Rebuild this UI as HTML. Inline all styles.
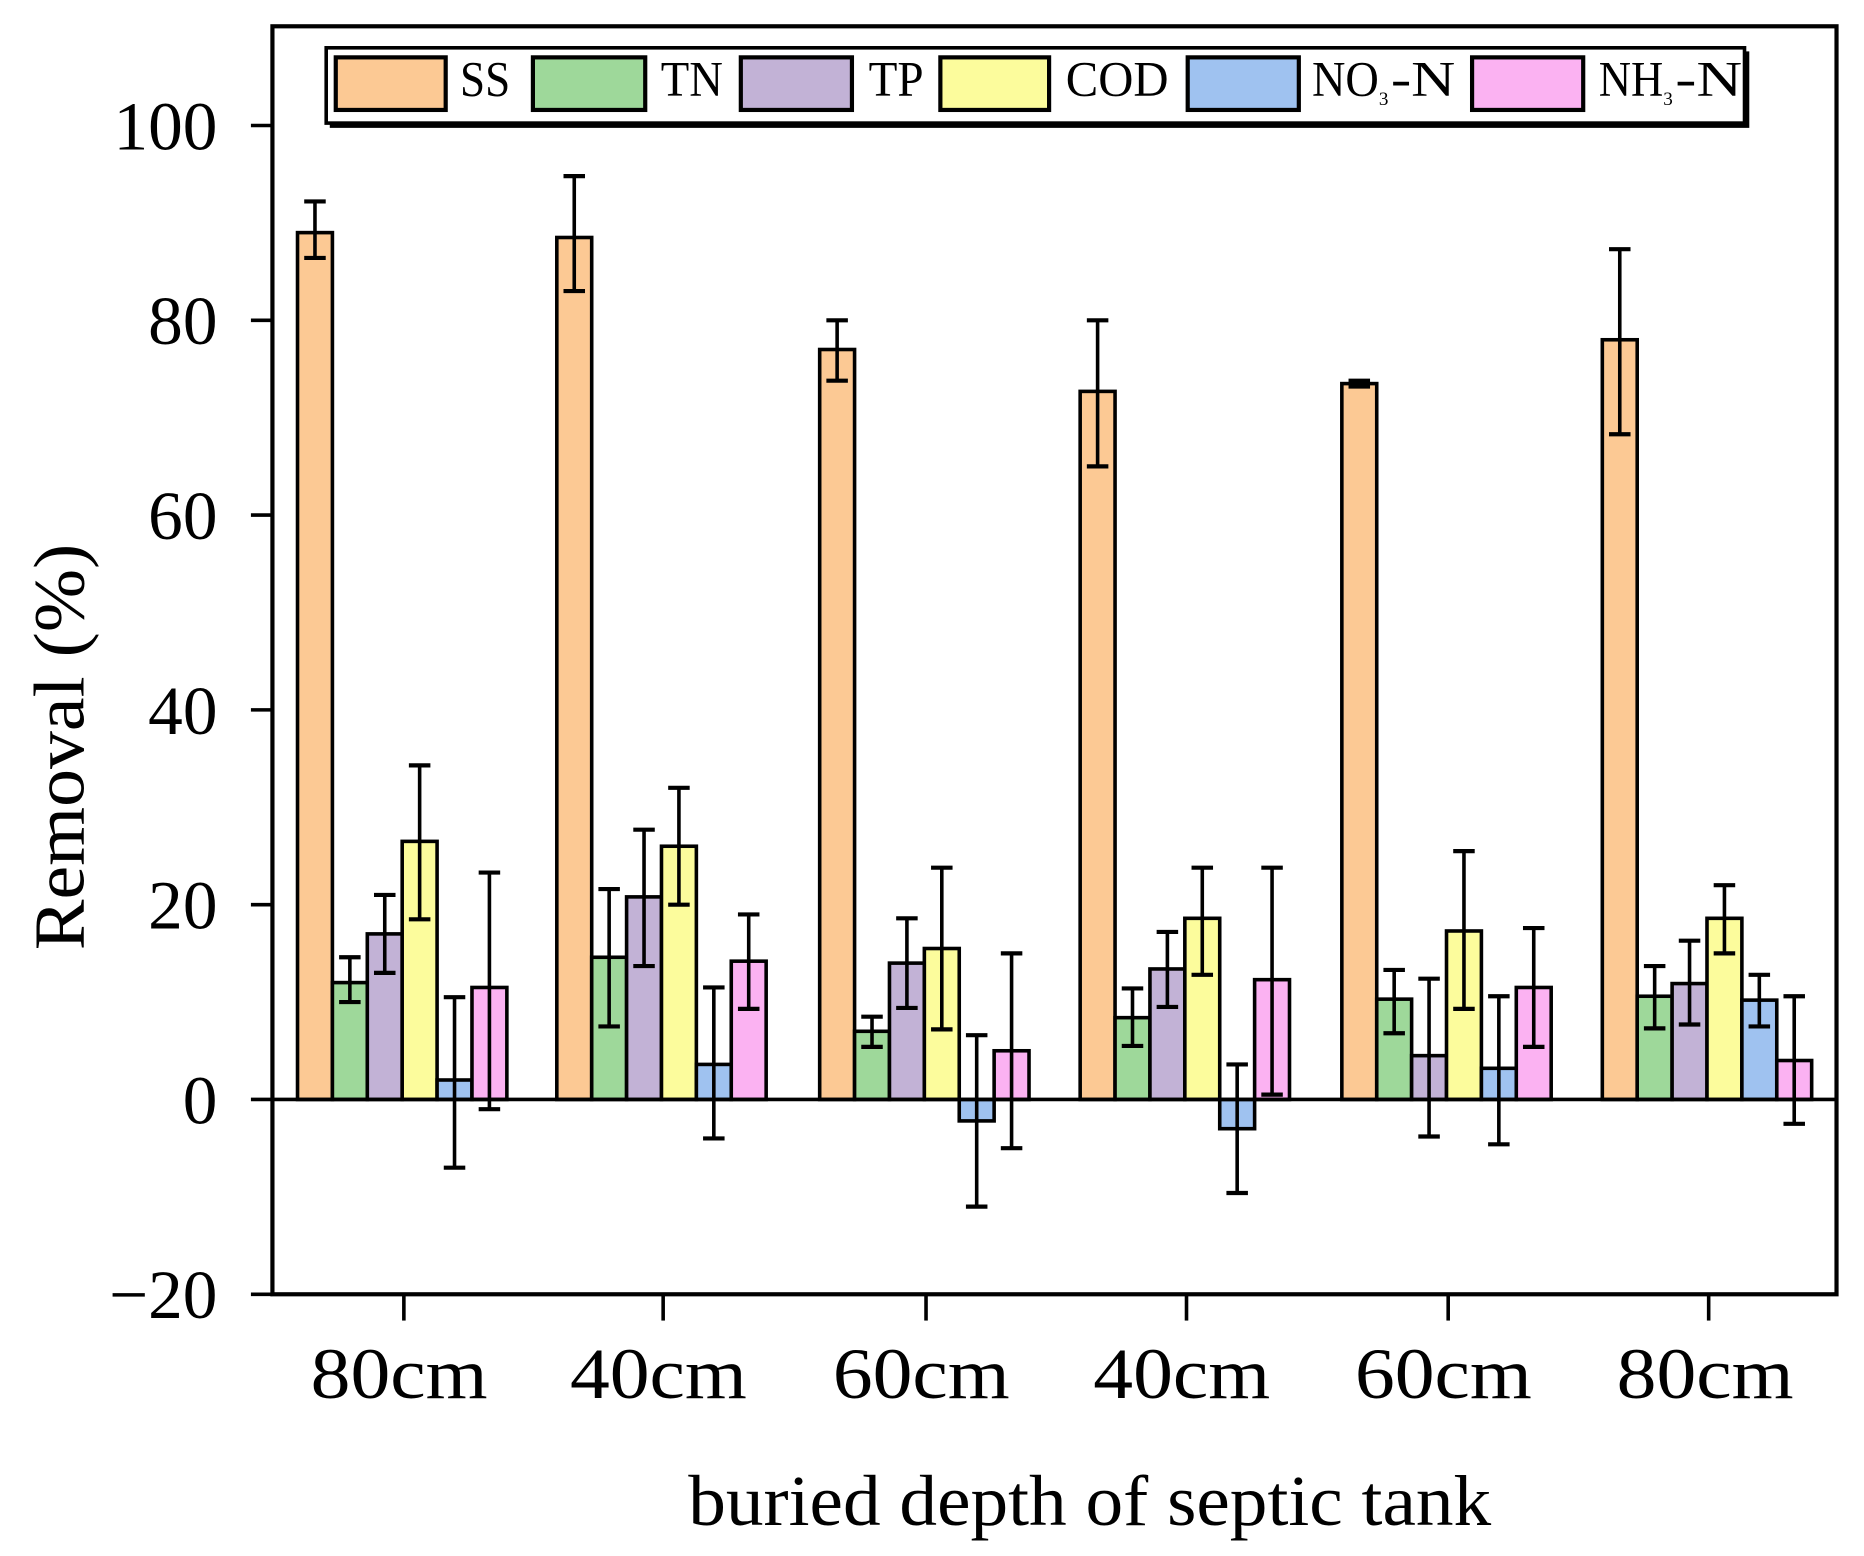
<!DOCTYPE html>
<html><head><meta charset="utf-8"><style>
html,body{margin:0;padding:0;background:#fff;}
svg{display:block;}
text{font-family:"Liberation Serif",serif;fill:#000;}
</style></head><body>
<svg id="c" width="1864" height="1556" viewBox="0 0 1560 1302" preserveAspectRatio="none" xmlns="http://www.w3.org/2000/svg">
<rect x="0" y="0" width="1560" height="1302" fill="#fff"/>
<g id="bars"></g>
<line x1="228" y1="920" x2="1537" y2="920" stroke="#000" stroke-width="3"/>
<rect x="228" y="22" width="1309" height="1061" fill="none" stroke="#000" stroke-width="3.5"/>
<g stroke="#000" stroke-width="3">
<line x1="210" y1="105" x2="228" y2="105"/><line x1="210" y1="268" x2="228" y2="268"/>
<line x1="210" y1="431" x2="228" y2="431"/><line x1="210" y1="594" x2="228" y2="594"/>
<line x1="210" y1="757" x2="228" y2="757"/><line x1="210" y1="920" x2="228" y2="920"/>
<line x1="210" y1="1083" x2="228" y2="1083"/>
<line x1="338" y1="1083" x2="338" y2="1105"/><line x1="555" y1="1083" x2="555" y2="1105"/>
<line x1="775" y1="1083" x2="775" y2="1105"/><line x1="993" y1="1083" x2="993" y2="1105"/>
<line x1="1212" y1="1083" x2="1212" y2="1105"/><line x1="1430" y1="1083" x2="1430" y2="1105"/>
</g>
<g font-size="58" text-anchor="end">
<text x="182" y="125">100</text><text x="182" y="288">80</text><text x="182" y="451">60</text>
<text x="182" y="614">40</text><text x="182" y="777">20</text><text x="182" y="940">0</text>
<text x="182" y="1103">−20</text>
</g>
<g font-size="60">
<text x="260" y="1170" textLength="148" lengthAdjust="spacingAndGlyphs">80cm</text>
<text x="477" y="1170" textLength="148" lengthAdjust="spacingAndGlyphs">40cm</text>
<text x="697" y="1170" textLength="148" lengthAdjust="spacingAndGlyphs">60cm</text>
<text x="915" y="1170" textLength="148" lengthAdjust="spacingAndGlyphs">40cm</text>
<text x="1134" y="1170" textLength="148" lengthAdjust="spacingAndGlyphs">60cm</text>
<text x="1353" y="1170" textLength="148" lengthAdjust="spacingAndGlyphs">80cm</text>
<text x="576" y="1276" textLength="672" lengthAdjust="spacingAndGlyphs">buried depth of septic tank</text>
<text transform="translate(70,795) rotate(-90)" textLength="340" lengthAdjust="spacingAndGlyphs">Removal (%)</text>
</g>
<rect x="276" y="43" width="1188" height="64" fill="#000"/>
<rect x="273" y="40" width="1187" height="63" fill="#fff" stroke="#000" stroke-width="3"/>
<g stroke="#000" stroke-width="3.5">
<rect x="281" y="48" width="92" height="44" fill="#fcc994"/>
<rect x="446" y="48" width="94" height="44" fill="#9ed89a"/>
<rect x="620" y="48" width="93" height="44" fill="#c2b2d6"/>
<rect x="787" y="48" width="91" height="44" fill="#fcfc9c"/>
<rect x="994" y="48" width="93" height="44" fill="#9fc2f0"/>
<rect x="1232" y="48" width="93" height="44" fill="#fbb2f2"/>
</g>
<g font-size="42">
<text x="385" y="80" textLength="42" lengthAdjust="spacingAndGlyphs">SS</text>
<text x="553" y="80" textLength="52" lengthAdjust="spacingAndGlyphs">TN</text>
<text x="727" y="80" textLength="46" lengthAdjust="spacingAndGlyphs">TP</text>
<text x="892" y="80" textLength="86" lengthAdjust="spacingAndGlyphs">COD</text>
<text x="1098" y="80" textLength="56" lengthAdjust="spacingAndGlyphs">NO</text><text x="1154" y="88" font-size="16">3</text><text x="1164" y="80" textLength="54" lengthAdjust="spacingAndGlyphs">-N</text>
<text x="1338" y="80" textLength="54" lengthAdjust="spacingAndGlyphs">NH</text><text x="1392" y="88" font-size="16">3</text><text x="1402" y="80" textLength="56" lengthAdjust="spacingAndGlyphs">-N</text>
</g>
</svg>
<script>
var cols=["#fcc994","#9ed89a","#c2b2d6","#fcfc9c","#9fc2f0","#fbb2f2"];
var centers=[338,555,775,993,1212,1430];
var d=[
[[89,86.4,92.2],[12,10,14.6],[17,13,21],[26.5,18.5,34.3],[2,-7,10.5],[11.5,-1,23.3]],
[[88.5,83,94.8],[14.6,7.5,21.6],[20.8,13.7,27.7],[26,20,32],[3.6,-4,11.5],[14.2,9.3,19]],
[[77,73.8,80],[7,5.4,8.5],[14,9.4,18.6],[15.5,7.2,23.8],[-2.2,-11,6.6],[5,-5,15]],
[[72.7,65,80],[8.4,5.5,11.4],[13.4,9.5,17.2],[18.6,12.8,23.8],[-3,-9.6,3.6],[12.3,0.5,23.8]],
[[73.5,73.2,73.8],[10.3,6.8,13.3],[4.5,-3.8,12.4],[17.3,9.3,25.5],[3.2,-4.6,10.6],[11.5,5.4,17.6]],
[[78,68.3,87.3],[10.6,7.3,13.7],[11.9,7.7,16.3],[18.6,15,22],[10.2,7.5,12.8],[4,-2.5,10.6]]];
function Y(v){return 920-v*8.15;}
var s="",w=29.2;
for(var g=0;g<6;g++){for(var b=0;b<6;b++){
var x=centers[g]-89+b*w,v=d[g][b],y0=Y(0),y1=Y(v[0]);
s+='<rect x="'+x+'" y="'+Math.min(y0,y1)+'" width="'+w+'" height="'+Math.abs(y1-y0)+'" fill="'+cols[b]+'" stroke="#000" stroke-width="3"/>';
var cx=x+w/2;
s+='<line x1="'+cx+'" y1="'+Y(v[1])+'" x2="'+cx+'" y2="'+Y(v[2])+'" stroke="#000" stroke-width="3"/>';
s+='<line x1="'+(cx-9)+'" y1="'+Y(v[1])+'" x2="'+(cx+9)+'" y2="'+Y(v[1])+'" stroke="#000" stroke-width="3.5"/>';
s+='<line x1="'+(cx-9)+'" y1="'+Y(v[2])+'" x2="'+(cx+9)+'" y2="'+Y(v[2])+'" stroke="#000" stroke-width="3.5"/>';
}}
document.getElementById("bars").innerHTML=s;
</script>
</body></html>
